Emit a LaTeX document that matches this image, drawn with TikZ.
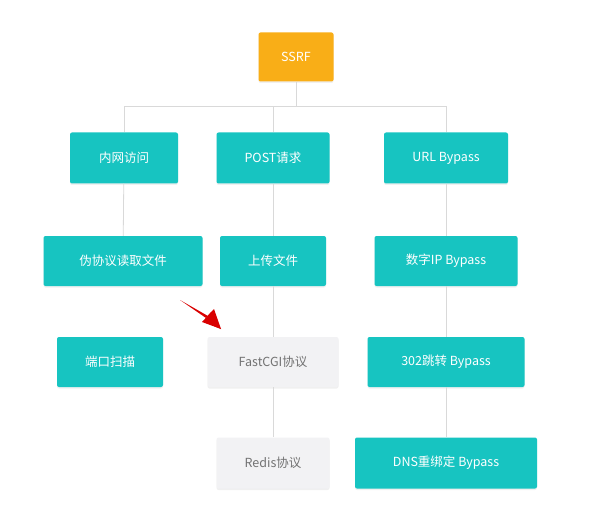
\documentclass[tikz,border=0pt]{standalone}
\usepackage{fontspec}
\setmainfont{Noto Sans CJK SC}
\usetikzlibrary{shadows}
\definecolor{teal1}{HTML}{17C4C1}
\definecolor{orng}{HTML}{F9AE17}
\definecolor{gbox}{HTML}{F2F2F4}
\definecolor{lnc}{HTML}{D9D9D9}
\begin{document}
\begin{tikzpicture}[x=1pt,y=-1pt,
 box/.style={fill=teal1,text=white,rounded corners=2pt,font=\fontsize{12.5}{14}\selectfont,inner sep=0pt,drop shadow={opacity=0.12,shadow xshift=0pt,shadow yshift=-1.5pt}},
 gray/.style={box,fill=gbox,text=black!55},
 ln/.style={draw=lnc,line width=0.8pt}]
\useasboundingbox (0,0) rectangle (609,521);
\node[box,fill=orng,minimum width=75pt,minimum height=49pt] (ssrf) at (296,57) {SSRF};
\node[box,minimum width=108pt,minimum height=51pt] (a1) at (124,158) {内网访问};
\node[box,minimum width=113pt,minimum height=51pt] (b1) at (273,158) {POST请求};
\node[box,minimum width=124pt,minimum height=51pt] (c1) at (446,158) {URL Bypass};
\node[box,minimum width=159pt,minimum height=50pt] (a2) at (123,261) {伪协议读取文件};
\node[box,minimum width=106pt,minimum height=50pt] (b2) at (273,261) {上传文件};
\node[box,minimum width=143pt,minimum height=50pt] (c2) at (446,261) {数字IP Bypass};
\node[box,minimum width=106pt,minimum height=50pt] (a3) at (110,362) {端口扫描};
\node[gray,minimum width=131pt,minimum height=50pt] (b3) at (273,362) {FastCGI协议};
\node[box,minimum width=157pt,minimum height=50pt] (c3) at (446,362) {302跳转 Bypass};
\node[gray,minimum width=113pt,minimum height=51pt] (b4) at (273,463) {Redis协议};
\node[box,minimum width=182pt,minimum height=51pt] (c4) at (446,463) {DNS重绑定 Bypass};
\coordinate (j) at (296,106);
\begin{scope}[on background layer/.try]
\draw[ln] (ssrf.south) -- (j);
\draw[ln] (a1.north) |- (c1.north |- j) -- (c1.north);
\draw[ln] (b1.north) -- (b1.north |- j);
\draw[ln] (a1) -- (a2);
\draw[ln] (b1) -- (b2);
\draw[ln] (c1) -- (c2);
\draw[ln] (b2) -- (b3);
\draw[ln] (b3) -- (b4);
\draw[ln] (c2) -- (c3);
\draw[ln] (c3) -- (c4);
\end{scope}
\coordinate (rs) at (180,300);
\coordinate (re) at (221,329);
\fill[red!85!black] (rs) -- (208,316) -- (205,322) -- (re) -- (211,312) -- (206,318) -- cycle;
\fill[red!85!black] (re) -- (202,322) -- (214,309) -- cycle;
\end{tikzpicture}
\end{document}
